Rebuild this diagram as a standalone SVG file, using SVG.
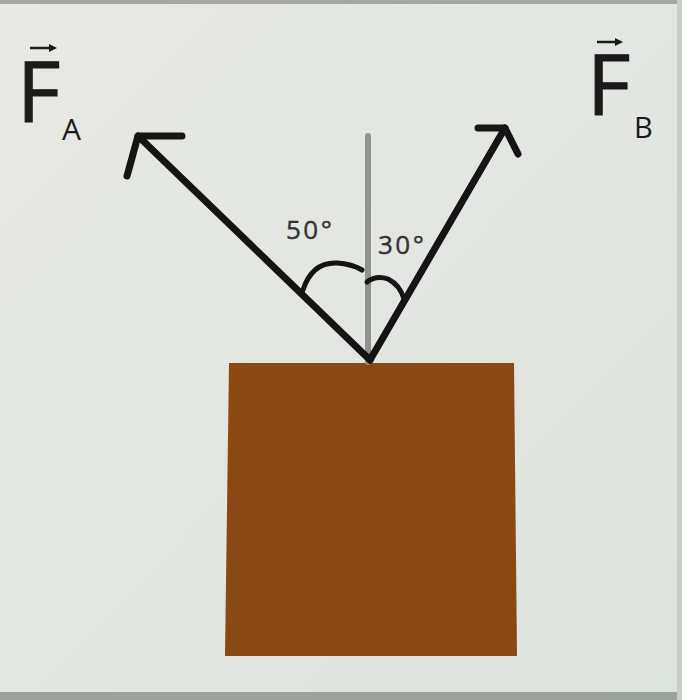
<svg xmlns="http://www.w3.org/2000/svg" width="682" height="700" viewBox="0 0 682 700">
<defs>
<linearGradient id="bg" x1="0" y1="0" x2="1" y2="1">
<stop offset="0" stop-color="#e8e8e4"/>
<stop offset="1" stop-color="#dde3de"/>
</linearGradient>
<style>
.lbl{font-family:"Open Sans","Liberation Sans",sans-serif;fill:#1a1a1a;stroke:#1a1a1a;stroke-width:1.2}
.sub{font-family:"Open Sans","Liberation Sans",sans-serif;fill:#1a1a1a}
.vec{stroke:#141414;stroke-width:7;fill:none;stroke-linecap:round;stroke-linejoin:round}
.arc{stroke:#141414;stroke-width:5;fill:none;stroke-linecap:round}
.ang{font-family:"Open Sans","Liberation Sans",sans-serif;fill:#333;font-size:26px;letter-spacing:2.5px;stroke:#333;stroke-width:0.4}
</style>
</defs>
<rect x="0" y="0" width="682" height="700" fill="url(#bg)"/>
<rect x="0" y="0" width="682" height="4" fill="#a3a6a3"/>
<rect x="0" y="692" width="682" height="8" fill="#9ba19d"/>
<rect x="677" y="0" width="5" height="700" fill="#c9ccc8"/>

<g id="box">
<polygon points="229,363 514,363 517,656 225,656" fill="#8a4912"/>
</g>

<g id="axis">
<line x1="368" y1="136" x2="368" y2="362" stroke="#8f9190" stroke-width="6" stroke-linecap="round"/>
</g>

<g id="connectors">
<g id="vecA">
<line class="vec" x1="370" y1="360" x2="138" y2="136"/>
<polyline class="vec" points="182,136 138,136 127,176"/>
</g>
<g id="vecB">
<line class="vec" x1="370" y1="360" x2="505" y2="128"/>
<polyline class="vec" points="478,128 505,128 518,154"/>
</g>
<path class="arc" d="M303,290 Q312,262 337,263 Q352,264 362,270"/>
<path class="arc" d="M367,282 Q376,275 388,279 Q400,285 404,299"/>
</g>

<g id="labelA">
<text class="lbl" x="17" y="122" font-size="84">F</text>
<line x1="30" y1="48" x2="53" y2="48" stroke="#1a1a1a" stroke-width="2.5"/>
<polygon points="57,48 49,44 49,52" fill="#1a1a1a"/>
<text class="sub" x="62" y="140" font-size="30">A</text>
</g>

<g id="labelB">
<text class="lbl" x="587" y="115" font-size="84">F</text>
<line x1="597" y1="42" x2="619" y2="42" stroke="#1a1a1a" stroke-width="2.5"/>
<polygon points="623,42 615,38 615,46" fill="#1a1a1a"/>
<text class="sub" x="634" y="138" font-size="29">B</text>
</g>

<g id="angles">
<text class="ang" x="286" y="239">50°</text>
<text class="ang" x="378" y="254">30°</text>
</g>
</svg>
